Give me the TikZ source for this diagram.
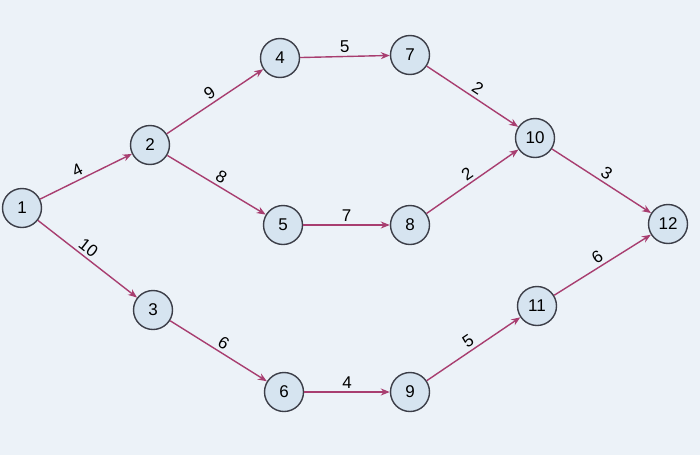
\documentclass[tikz,border=0pt]{standalone}
\usepackage{fontspec}
\setmainfont{Liberation Sans}
\usetikzlibrary{arrows.meta}
\definecolor{bgc}{RGB}{236,242,248}
\definecolor{nfill}{RGB}{214,228,240}
\definecolor{ndraw}{RGB}{60,62,72}
\definecolor{ecol}{RGB}{168,62,112}
\tikzset{
  nd/.style={circle, draw=ndraw, fill=nfill, line width=1.4pt, minimum size=39pt, inner sep=0pt, font=\fontsize{17}{19}\selectfont},
  ed/.style={draw=ecol, line width=1.4pt, -{Stealth[length=9pt,width=7pt]}},
  lb/.style={font=\fontsize{17}{19}\selectfont, sloped, above, inner sep=3pt}
}
\begin{document}
\begin{tikzpicture}[x=1pt,y=-1pt]
\fill[bgc] (0,0) rectangle (700,455);
\useasboundingbox (0,0) rectangle (700,455);
\node[nd] (n1) at (22,208) {1};
\node[nd] (n2) at (150,145) {2};
\node[nd] (n3) at (153,310) {3};
\node[nd] (n4) at (280,58) {4};
\node[nd] (n5) at (283,225) {5};
\node[nd] (n6) at (284,392) {6};
\node[nd] (n7) at (410,55) {7};
\node[nd] (n8) at (410,225) {8};
\node[nd] (n9) at (410,392) {9};
\node[nd] (n10) at (535,138) {10};
\node[nd] (n11) at (537,306) {11};
\node[nd] (n12) at (668,224) {12};
\draw[ed] (n1) -- node[lb, pos=0.45] {4} (n2);
\draw[ed] (n1) -- node[lb, pos=0.45] {10} (n3);
\draw[ed] (n2) -- node[lb] {9} (n4);
\draw[ed] (n2) -- node[lb] {8} (n5);
\draw[ed] (n3) -- node[lb] {6} (n6);
\draw[ed] (n4) -- node[lb] {5} (n7);
\draw[ed] (n5) -- node[lb] {7} (n8);
\draw[ed] (n6) -- node[lb] {4} (n9);
\draw[ed] (n7) -- node[lb] {2} (n10);
\draw[ed] (n8) -- node[lb] {2} (n10);
\draw[ed] (n9) -- node[lb] {5} (n11);
\draw[ed] (n10) -- node[lb] {3} (n12);
\draw[ed] (n11) -- node[lb] {6} (n12);
\end{tikzpicture}
\end{document}
